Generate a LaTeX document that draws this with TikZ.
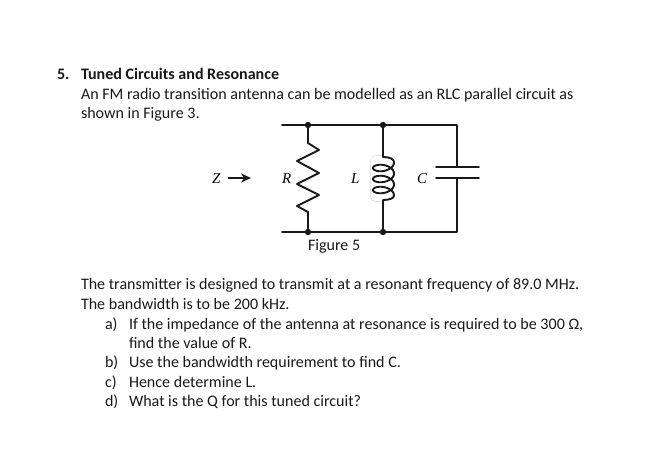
\documentclass[tikz,border=0pt]{standalone}
\usepackage{fontspec}
\setmainfont{Carlito}
\newfontfamily\serifit[ItalicFont=Liberation Serif Italic]{Liberation Serif}
\usetikzlibrary{arrows.meta}
\tikzset{
  txt/.style={anchor=base west,inner sep=0pt,outer sep=0pt,font=\fontsize{16.05}{18}\selectfont,text=black!90},
  var/.style={inner sep=0pt,outer sep=0pt,anchor=base west,font=\serifit\itshape\fontsize{15}{17}\selectfont},
  wire/.style={draw=black!90,line width=1.9pt,line cap=round,line join=round},
  dot/.style={circle,fill=black!90,inner sep=0pt,minimum size=6.4pt,outer sep=0pt}
}
\begin{document}
\begin{tikzpicture}[x=1pt,y=-1pt]
\useasboundingbox (0,0) rectangle (665,472);
\fill[white] (0,0) rectangle (665,472);
% text
\node[txt,font=\fontsize{16.05}{18}\selectfont\bfseries] (num) at (57,79) {5.};
\node[txt,font=\fontsize{16.05}{18}\selectfont\bfseries] (title) at (81,79) {Tuned Circuits and Resonance};
\node[txt] (l1) at (81,99) {An FM radio transition antenna can be modelled as an RLC parallel circuit as};
\node[txt] (l2) at (81,118.5) {shown in Figure 3.};
\node[txt] (fig) at (308,250) {Figure 5};
\node[txt] (l3) at (81,289) {The transmitter is designed to transmit at a resonant frequency of 89.0 MHz.};
\node[txt] (l4) at (81,309) {The bandwidth is to be 200 kHz.};
\node[txt] (qa) at (105,329) {a)};
\node[txt] (ta) at (129,329) {If the impedance of the antenna at resonance is required to be 300 Ω,};
\node[txt] (ta2) at (129,348) {find the value of R.};
\node[txt] (qb) at (105,367) {b)};
\node[txt] (tb) at (129,367) {Use the bandwidth requirement to find C.};
\node[txt] (qc) at (105,387) {c)};
\node[txt] (tc) at (129,387) {Hence determine L.};
\node[txt] (qd) at (105,406) {d)};
\node[txt] (td) at (129,406) {What is the Q for this tuned circuit?};
% circuit points
\coordinate (tl) at (282,125);
\coordinate (bl) at (282,232);
\coordinate (tr) at (457,125);
\coordinate (br) at (457,232);
\node[dot] (rt) at (308,125) {};
\node[dot] (lt) at (383,125) {};
\node[dot] (rb) at (308,232) {};
\node[dot] (lb) at (383,232) {};
\coordinate (ctop) at (457,167);
\coordinate (cbot) at (457,178);
\coordinate (coilt) at (383,157);
\coordinate (coilb) at (383,200);
% wires
\draw[wire] (tl) -- (rt) -- (lt) -- (tr) -- (ctop);
\draw[wire] (bl) -- (rb) -- (lb) -- (br) -- (cbot);
\draw[wire] (436,167) -- (479,167);
\draw[wire] (436,178) -- (479,178);
% resistor
\draw[wire] (rt) -- (308,143) -- (319,150) -- (297,161) -- (319,173) -- (297,184) -- (319,195) -- (297,206) -- (308,212) -- (rb);
% inductor
\draw[black!12,line width=0.6pt,rounded corners=5pt] (383,155.5) -- (370.5,155.5) -- (370.5,201.5) -- (383,201.5);
\draw[wire] (lt) -- (coilt) .. controls (390,157) and (394,159) .. (394,162.5)
  -- plot[smooth,domain=90:1170,samples=121] ({383.5+10.5*sin(\x)},{159.75+0.03056*\x-5.75*cos(\x)})
  .. controls (394,198) and (390,200) .. (coilb) -- (lb);
% labels
\node[var] (z) at (212,183) {\textit{Z}};
\coordinate (za) at (228,178);
\coordinate (zb) at (251,178);
\draw[draw=black!90,line width=1.3pt,-{Stealth[length=10pt,width=9pt]}] (za) -- (zb);
\node[var] (r) at (282,183) {\textit{R}};
\node[var] (ll) at (351,183) {\textit{L}};
\node[var] (c) at (417,183) {\textit{C}};
\end{tikzpicture}
\end{document}
